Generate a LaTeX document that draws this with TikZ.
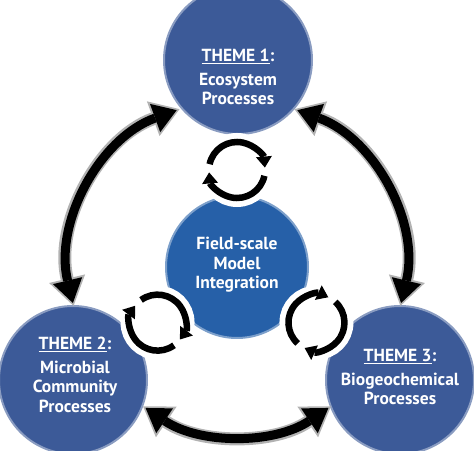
\documentclass[tikz,border=0pt]{standalone}
\usepackage{fontspec}
\setmainfont{PT Sans}
\usetikzlibrary{arrows.meta, calc}
\definecolor{themeblue}{RGB}{60,90,152}
\definecolor{coreblue}{RGB}{38,96,168}
\definecolor{rimgray}{RGB}{178,178,178}
\newcommand{\ulword}[1]{\setbox0\hbox{#1}\rlap{\rule[-2.6pt]{\wd0}{1.3pt}}\box0}
\tikzset{
    theme/.style={
        circle, fill=themeblue, draw=themeblue!60, line width=2pt,
        minimum size=148pt, inner sep=0pt
    },
    core/.style={
        circle, fill=coreblue, draw=coreblue!60, line width=2pt,
        minimum size=142pt, inner sep=0pt
    },
    themetext/.style={
        text=white, align=center,
        font=\fontsize{17.5}{19.5}\selectfont\bfseries
    },
    rim/.style={
        draw=rimgray, line width=13pt,
        {Triangle[length=28pt, width=37pt, line width=0pt]}-{Triangle[length=28pt, width=37pt, line width=0pt]}
    },
    bigarrow/.style={
        draw=black, line width=9pt, shorten <=3pt, shorten >=3pt,
        {Triangle[length=23pt, width=30pt, line width=0pt]}-{Triangle[length=23pt, width=30pt, line width=0pt]}
    },
    halo/.style={draw=white, line width=18pt},
    loopring/.style={draw=black, line width=6.5pt, -{Triangle[length=11pt, width=16pt, line width=0pt]}}
}

\begin{document}
\begin{tikzpicture}[x=1pt, y=1pt]
\clip (0,0) rectangle (474,450);
\useasboundingbox (0,0) rectangle (474,450);

% Circles
\node[core] (mid) at (237,183) {};
\node[theme] (t1) at (238,390) {};
\node[theme] (t2) at (73,70) {};
\node[theme] (t3) at (400,70) {};

\node[themetext] (t1txt) at ([yshift=-17pt]t1.center) {\ulword{THEME 1}:\\[4pt] Ecosystem\\Processes};
\node[themetext] (t2txt) at ([xshift=2pt, yshift=5pt]t2.center) {\ulword{THEME 2}:\\[4pt] Microbial\\Community\\Processes};
\node[themetext] (t3txt) at ([yshift=3pt]t3.center) {\ulword{THEME 3}:\\[4pt] Biogeochemical\\Processes};
\node[themetext] (midtxt) at ([yshift=2pt]mid.center) {Field-scale\\Model\\Integration};

% Arrow ends on a ring round the centre
\coordinate (a21) at ($(mid.center)+(193.4:168pt)$);
\coordinate (a31) at ($(mid.center)+(-13.4:168pt)$);
\coordinate (a23) at ($(mid.center)+(236:168pt)$);

% Double arrows between the themes
\draw[rim] (a21) arc[start angle=193.4, end angle=110, radius=168pt];
\draw[bigarrow] (a21) arc[start angle=193.4, end angle=110, radius=168pt];
\draw[rim] (a31) arc[start angle=-13.4, end angle=70, radius=168pt];
\draw[bigarrow] (a31) arc[start angle=-13.4, end angle=70, radius=168pt];
\draw[rim] (a23) arc[start angle=236, end angle=304, radius=168pt];
\draw[bigarrow] (a23) arc[start angle=236, end angle=304, radius=168pt];

% Cycle arrows
\coordinate (cyc1) at ($(mid.center)+(90:97pt)$);
\coordinate (cyc2) at ($(mid.center)+(215:97pt)$);
\coordinate (cyc3) at ($(mid.center)+(325:97pt)$);

\foreach \c/\e in {cyc1/5, cyc2/143, cyc3/65} {
    \draw[halo] (\c) circle[radius=28pt];
    \draw[loopring] ($(\c)+(\e+163:28pt)$) arc[start angle=\e+163, end angle=\e, radius=28pt];
    \draw[loopring] ($(\c)+(\e-17:28pt)$) arc[start angle=\e-17, end angle=\e-180, radius=28pt];
}

\end{tikzpicture}
\end{document}
